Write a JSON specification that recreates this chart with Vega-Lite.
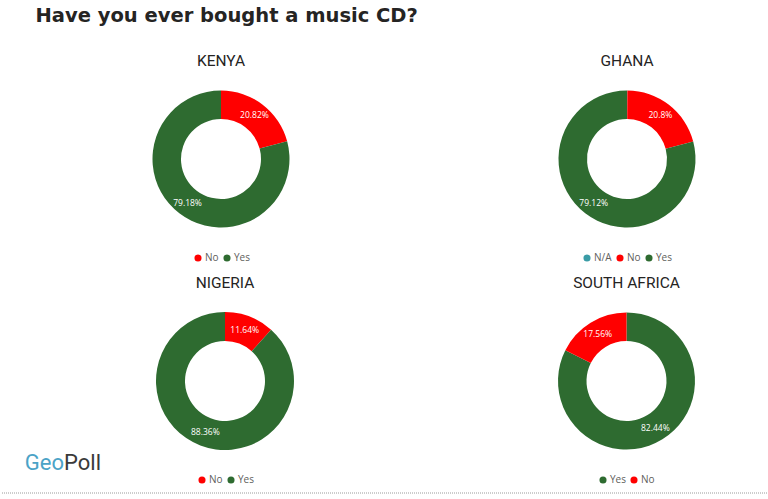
{
  "$schema": "https://vega.github.io/schema/vega-lite/v6.json",
  "padding": {"left": 0, "top": 6, "right": 0, "bottom": 0},
  "background": "white",
  "title": {"text": "Have you ever bought a music CD?", "anchor": "start", "dx": 35, "font": "DejaVu Sans", "fontSize": 19.5, "fontWeight": "bold", "color": "#252423", "offset": 27},
  "datasets": {
    "kenya": [{"answer": "No", "pct": 0.2082}, {"answer": "Yes", "pct": 0.7918}],
    "ghana": [{"answer": "N/A", "pct": 0.0008}, {"answer": "No", "pct": 0.208}, {"answer": "Yes", "pct": 0.7912}],
    "nigeria": [{"answer": "No", "pct": 0.1164}, {"answer": "Yes", "pct": 0.8836}],
    "southafrica": [{"answer": "Yes", "pct": 0.8244}, {"answer": "No", "pct": 0.1756}],
    "brand": [{"name": "GeoPoll"}]
  },
  "bounds": "flush",
  "spacing": 361,
  "resolve": {"scale": {"color": "independent", "theta": "independent"}, "legend": {"color": "independent"}},
  "vconcat": [
    {
      "spacing": 12,
      "resolve": {"scale": {"color": "independent", "theta": "independent"}, "legend": {"color": "independent"}},
      "vconcat": [
        {
          "spacing": 44,
          "resolve": {"scale": {"color": "independent", "theta": "independent"}, "legend": {"color": "independent"}},
          "hconcat": [
            {
              "width": 440, "height": 140,
              "title": {"text": "KENYA", "anchor": "middle", "font": "Roboto", "fontSize": 15.5, "fontWeight": "normal", "color": "#252423", "offset": 20},
              "data": {"name": "kenya"},
              "layer": [
                {"mark": {"type": "arc", "innerRadius": 40, "outerRadius": 68.5},
                 "encoding": {
                   "theta": {"field": "pct", "type": "quantitative", "stack": true},
                   "order": {"field": "pct", "sort": "ascending"},
                   "color": {"field": "answer", "type": "nominal", "scale": {"domain": ["No", "Yes"], "range": ["#FF0000", "#2E6B30"]}, "legend": {"title": null}}
                 }},
                {"transform": [{"filter": "datum.pct > 0.01"}],
                 "mark": {"type": "text", "radius": 55, "fill": "white", "font": "Open Sans", "fontSize": 8.5},
                 "encoding": {
                   "theta": {"field": "pct", "type": "quantitative", "stack": true},
                   "order": {"field": "pct", "sort": "ascending"},
                   "text": {"field": "pct", "type": "quantitative", "format": ".2~%"}
                 }}
              ]
            },
            {
              "width": 284, "height": 140,
              "title": {"text": "GHANA", "anchor": "middle", "font": "Roboto", "fontSize": 15.5, "fontWeight": "normal", "color": "#252423", "offset": 20},
              "data": {"name": "ghana"},
              "layer": [
                {"mark": {"type": "arc", "innerRadius": 40, "outerRadius": 68.5},
                 "encoding": {
                   "theta": {"field": "pct", "type": "quantitative", "stack": true},
                   "order": {"field": "pct", "sort": "ascending"},
                   "color": {"field": "answer", "type": "nominal", "scale": {"domain": ["N/A", "No", "Yes"], "range": ["#3A9CA6", "#FF0000", "#2E6B30"]}, "legend": {"title": null}}
                 }},
                {"transform": [{"filter": "datum.pct > 0.01"}],
                 "mark": {"type": "text", "radius": 55, "fill": "white", "font": "Open Sans", "fontSize": 8.5},
                 "encoding": {
                   "theta": {"field": "pct", "type": "quantitative", "stack": true},
                   "order": {"field": "pct", "sort": "ascending"},
                   "text": {"field": "pct", "type": "quantitative", "format": ".2~%"}
                 }}
              ]
            }
          ]
        },
        {
          "spacing": 36,
          "resolve": {"scale": {"color": "independent", "theta": "independent"}, "legend": {"color": "independent"}},
          "hconcat": [
            {
              "width": 448, "height": 140,
              "title": {"text": "NIGERIA", "anchor": "middle", "font": "Roboto", "fontSize": 15.5, "fontWeight": "normal", "color": "#252423", "offset": 20},
              "data": {"name": "nigeria"},
              "layer": [
                {"mark": {"type": "arc", "innerRadius": 40, "outerRadius": 69},
                 "encoding": {
                   "theta": {"field": "pct", "type": "quantitative", "stack": true},
                   "order": {"field": "pct", "sort": "ascending"},
                   "color": {"field": "answer", "type": "nominal", "scale": {"domain": ["No", "Yes"], "range": ["#FF0000", "#2E6B30"]}, "legend": {"title": null}}
                 }},
                {"transform": [{"filter": "datum.pct > 0.01"}],
                 "mark": {"type": "text", "radius": 55, "fill": "white", "font": "Open Sans", "fontSize": 8.5},
                 "encoding": {
                   "theta": {"field": "pct", "type": "quantitative", "stack": true},
                   "order": {"field": "pct", "sort": "ascending"},
                   "text": {"field": "pct", "type": "quantitative", "format": ".2~%"}
                 }}
              ]
            },
            {
              "width": 283, "height": 140,
              "title": {"text": "SOUTH AFRICA", "anchor": "middle", "font": "Roboto", "fontSize": 15.5, "fontWeight": "normal", "color": "#252423", "offset": 20},
              "data": {"name": "southafrica"},
              "layer": [
                {"mark": {"type": "arc", "innerRadius": 40, "outerRadius": 68.5},
                 "encoding": {
                   "theta": {"field": "pct", "type": "quantitative", "stack": true},
                   "order": {"field": "pct", "sort": "descending"},
                   "color": {"field": "answer", "type": "nominal", "scale": {"domain": ["Yes", "No"], "range": ["#2E6B30", "#FF0000"]}, "legend": {"title": null}}
                 }},
                {"transform": [{"filter": "datum.pct > 0.01"}],
                 "mark": {"type": "text", "radius": 55, "fill": "white", "font": "Open Sans", "fontSize": 8.5},
                 "encoding": {
                   "theta": {"field": "pct", "type": "quantitative", "stack": true},
                   "order": {"field": "pct", "sort": "descending"},
                   "text": {"field": "pct", "type": "quantitative", "format": ".2~%"}
                 }}
              ]
            }
          ]
        }
      ]
    },
    {
      "spacing": 2,
      "vconcat": [
        {
          "width": 126, "height": 40,
          "data": {"name": "brand"},
          "layer": [
            {"mark": {"type": "text", "text": "Geo", "align": "right", "baseline": "alphabetic", "font": "Roboto", "fontSize": 22, "fill": "#4BA3C7"}, "encoding": {}},
            {"mark": {"type": "text", "text": "Poll", "align": "left", "baseline": "alphabetic", "font": "Roboto", "fontSize": 22, "fill": "#3A3A3A"}, "encoding": {}}
          ]
        },
        {
          "width": 768, "height": 0,
          "data": {"name": "brand"},
          "mark": {"type": "rule", "color": "#9A9A9A", "strokeDash": [1, 1], "strokeWidth": 1},
          "encoding": {"y": {"datum": 0, "type": "quantitative", "axis": null}}
        }
      ]
    }
  ],
  "config": {
    "view": {"stroke": null},
    "legend": {
      "orient": "bottom",
      "direction": "horizontal",
      "layout": {"bottom": {"anchor": "middle"}},
      "symbolType": "circle",
      "symbolSize": 50,
      "symbolStrokeWidth": 0,
      "labelFont": "Open Sans",
      "labelFontSize": 10,
      "labelColor": "#605E5C",
      "labelOffset": 2,
      "columnPadding": 3,
      "offset": 24,
      "padding": 0
    }
  }
}
